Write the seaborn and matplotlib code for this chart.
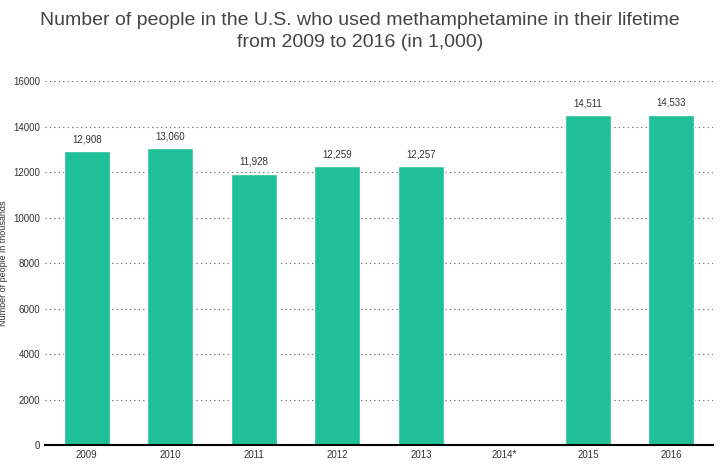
import matplotlib
matplotlib.use("Agg")
import matplotlib.pyplot as plt
import seaborn as sns
import numpy as np

years = ["2009", "2010", "2011", "2012", "2013", "2014*", "2015", "2016"]
values = [12908, 13060, 11928, 12259, 12257, np.nan, 14511, 14533]
labels = ["12,908", "13,060", "11,928", "12,259", "12,257", "", "14,511", "14,533"]

sns.set_style("white")
plt.rcParams['font.family'] = ['Liberation Sans', 'DejaVu Sans']
fig = plt.figure(figsize=(7.2, 4.69), dpi=100)
ax = fig.add_axes([0.0625, 0.051, 0.928, 0.776])
sns.barplot(x=years, y=values, color="#1fbf98", saturation=1, width=0.55, ax=ax)
for i, (v, l) in enumerate(zip(values, labels)):
    if l:
        ax.text(i, v + 300, l, ha="center", va="bottom", fontsize=7, color="#333333")
ax.set_ylim(0, 16000)
ax.set_yticks(range(0, 16001, 2000))
ax.tick_params(axis="both", labelsize=7, colors="#333333", length=0)
ax.set_ylabel("Number of people in thousands", fontsize=6.5, color="#333333")
ax.yaxis.grid(True, linestyle=(0, (1, 3)), color="#555555", linewidth=0.8)
ax.set_axisbelow(True)
for s in ["top", "right", "left"]:
    ax.spines[s].set_visible(False)
ax.spines["bottom"].set_color("black")
ax.spines["bottom"].set_linewidth(1.5)
fig.text(0.5, 0.975, "Number of people in the U.S. who used methamphetamine in their lifetime\nfrom 2009 to 2016 (in 1,000)",
         ha="center", va="top", fontsize=14, color="#444444", linespacing=1.4)
fig.savefig("out.png", dpi=100)
